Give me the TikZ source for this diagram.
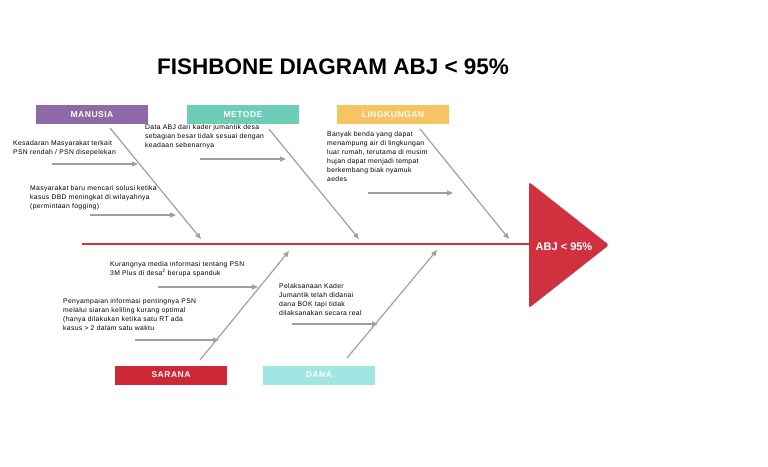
\documentclass[tikz,border=0pt]{standalone}
\usepackage{fontspec}
\setmainfont{Liberation Sans}
\usetikzlibrary{arrows.meta}
\definecolor{cmanusia}{RGB}{142,106,166}
\definecolor{cmetode}{RGB}{109,205,183}
\definecolor{clingk}{RGB}{247,196,99}
\definecolor{csarana}{RGB}{206,40,54}
\definecolor{cdana}{RGB}{162,230,228}
\definecolor{chead}{RGB}{207,50,62}
\definecolor{cbone}{RGB}{160,160,160}
\tikzset{
  catbox/.style={fill=#1, minimum width=112pt, minimum height=19pt, inner sep=0pt,
    text=white, font=\fontsize{8.5}{10}\selectfont\bfseries\addfontfeature{LetterSpace=6}},
  bone/.style={draw=cbone, line width=1.2pt, -{Triangle[length=6pt,width=5pt]}},
  small/.style={draw=cbone, line width=1.2pt, -{Triangle[length=6pt,width=5pt]}},
  cause/.style={anchor=north west, inner sep=0pt, align=left,
    font=\fontsize{6.8}{9}\selectfont\addfontfeature{LetterSpace=5}},
  spine/.style={draw=chead, line width=2.8pt}
}
\begin{document}
\begin{tikzpicture}[x=1pt,y=-1pt]
\useasboundingbox[fill=white] (0,0) rectangle (768,466);

% title
\node[anchor=base, inner sep=0pt, font=\fontsize{22.5}{26}\selectfont\bfseries] (title) at (333,74) {FISHBONE DIAGRAM ABJ < 95\%};

% category boxes
\node[catbox=cmanusia] (manusia) at (92,114.5) {MANUSIA};
\node[catbox=cmetode] (metode) at (243,114.5) {METODE};
\node[catbox=clingk] (lingk) at (393,114.5) {LINGKUNGAN};
\node[catbox=csarana] (sarana) at (171,375) {SARANA};
\node[catbox=cdana] (dana) at (319,375) {DANA};

% spine and head
\coordinate (tail) at (82,244);
\coordinate (neck) at (530,244);
\draw[spine] (tail) -- (neck);
\fill[chead, rounded corners=2.5pt] (529,182) -- (609,245) -- (529,308) -- cycle;
\node[text=white, inner sep=0pt, font=\fontsize{11}{12}\selectfont\bfseries] (effect) at (564,247) {ABJ < 95\%};

% main bones
\coordinate (m1) at (110,128); \coordinate (m2) at (201,239);
\coordinate (t1) at (269,129); \coordinate (t2) at (359,239);
\coordinate (l1) at (420,129); \coordinate (l2) at (509,239);
\coordinate (s1) at (200,360); \coordinate (s2) at (289,251);
\coordinate (d1) at (347,358); \coordinate (d2) at (437,250);
\draw[bone] (m1) -- (m2);
\draw[bone] (t1) -- (t2);
\draw[bone] (l1) -- (l2);
\draw[bone] (s1) -- (s2);
\draw[bone] (d1) -- (d2);

% causes
\node[cause] (c1) at (13,140) {Kesadaran Masyarakat terkait\\PSN rendah / PSN disepelekan};
\coordinate (a1) at (52,164); \coordinate (b1) at (138,164);
\draw[small] (a1) -- (b1);

\node[cause] (c2) at (30,185) {Masyarakat baru mencari solusi ketika\\kasus DBD meningkat di wilayahnya\\(permintaan fogging)};
\coordinate (a2) at (90,215); \coordinate (b2) at (176,215);
\draw[small] (a2) -- (b2);

\node[cause] (c3) at (145,124) {Data ABJ dari kader jumantik desa\\sebagian besar tidak sesuai dengan\\keadaan sebenarnya};
\coordinate (a3) at (200,159); \coordinate (b3) at (286,159);
\draw[small] (a3) -- (b3);

\node[cause] (c4) at (327,131) {Banyak benda yang dapat\\menampung air di lingkungan\\luar rumah, terutama di musim\\hujan dapat menjadi tempat\\berkembang biak nyamuk\\aedes};
\coordinate (a4) at (368,193); \coordinate (b4) at (453,193);
\draw[small] (a4) -- (b4);

\node[cause] (c5) at (110,261) {Kurangnya media informasi tentang PSN\\3M Plus di desa\textsuperscript{2} berupa spanduk};
\coordinate (a5) at (158,287); \coordinate (b5) at (258,287);
\draw[small] (a5) -- (b5);

\node[cause] (c6) at (63,298) {Penyampaian informasi pentingnya PSN\\melalui siaran keliling kurang optimal\\(hanya dilakukan ketika satu RT ada\\kasus > 2 dalam satu waktu};
\coordinate (a6) at (135,340); \coordinate (b6) at (219,340);
\draw[small] (a6) -- (b6);

\node[cause] (c7) at (279,283) {Pelaksanaan Kader\\Jumantik telah didanai\\dana BOK tapi tidak\\dilaksanakan secara real};
\coordinate (a7) at (292,324); \coordinate (b7) at (378,324);
\draw[small] (a7) -- (b7);
\end{tikzpicture}
\end{document}
